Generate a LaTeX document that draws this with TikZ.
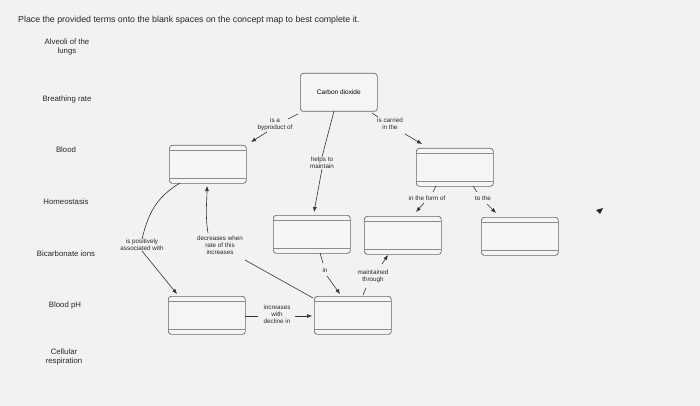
\documentclass[tikz,border=0pt]{standalone}
\usepackage{fontspec}
\setmainfont{Liberation Sans}
\begin{document}
\begin{tikzpicture}[x=1pt,y=-1pt,
  lbl/.style={font=\fontsize{6.3}{7}\selectfont,align=center,text=black!85,inner sep=0pt},
  term/.style={font=\fontsize{7.8}{9}\selectfont,align=center,text=black!85,inner sep=0pt},
  box/.style={draw=black!60,line width=0.7pt,rounded corners=3pt,fill=white!96!black,minimum width=77pt,minimum height=38pt,anchor=north west},
  blank/.style={box,path picture={\draw[black!45,line width=0.5pt]([yshift=-5pt]path picture bounding box.north west)--([yshift=-5pt]path picture bounding box.north east);
     \draw[black!45,line width=0.5pt]([yshift=5pt]path picture bounding box.south west)--([yshift=5pt]path picture bounding box.south east);}},
  ln/.style={draw=black!80,line width=0.6pt},
  arr/.style={ln,-{Latex[length=5pt,width=4pt]}}]
\usetikzlibrary{arrows.meta}
\fill[white!95!black] (0,0) rectangle (700,406);
\useasboundingbox (0,0) rectangle (700,406);
\node[font=\fontsize{8.8}{10}\selectfont,anchor=west,inner sep=0pt,text=black!85] (title) at (18,20) {Place the provided terms onto the blank spaces on the concept map to best complete it.};
\node[term] (t1) at (67,47) {Alveoli of the\\lungs};
\node[term] (t2) at (67,99) {Breathing rate};
\node[term] (t3) at (66,150) {Blood};
\node[term] (t4) at (66,202) {Homeostasis};
\node[term] (t5) at (66,254) {Bicarbonate ions};
\node[term] (t6) at (65,305) {Blood pH};
\node[term] (t7) at (64,357) {Cellular\\respiration};
\node[box,font=\fontsize{6.5}{7}\selectfont] (co2) at (300,73) {Carbon dioxide};
\node[blank] (b1) at (169,145) {};
\node[blank] (b2) at (273,215) {};
\node[blank] (b3) at (364,216) {};
\node[blank] (b4) at (416,148) {};
\node[blank] (b5) at (481,217) {};
\node[blank] (b6) at (168,296) {};
\node[blank] (b7) at (314,296) {};
% labels
\node[lbl] (l1) at (275,124) {is a\\byproduct of};
\node[lbl] (l2) at (322,163) {helps to\\maintain};
\node[lbl] (l3) at (390,124) {is carried\\in the};
\node[lbl] (l4) at (427,198) {in the form of};
\node[lbl] (l5) at (483,198) {to the};
\node[lbl] (l6) at (142,245) {is positively\\associated with};
\node[lbl] (l7) at (220,245) {decreases when\\rate of this\\increases};
\node[lbl] (l8) at (277,314) {increases\\with\\decline in};
\node[lbl] (l9) at (325,270) {in};
\node[lbl] (l10) at (373,276) {maintained\\through};
% connectors
\draw[ln] (298,114) -- (288,119);
\draw[arr] (267,132) -- (251,142);
\draw[ln] (334,111) -- (l2.north);
\draw[arr] (l2.south) -- (314,212);
\draw[ln] (372,113) -- (378,117);
\draw[arr] (405,134) -- (422,144);
\draw[ln] (436,186) -- (433,192);
\draw[arr] (424,203) -- (416,212);
\draw[ln] (473,186) -- (477,192);
\draw[arr] (487,204) -- (496,213);
\draw[ln] (180,183) .. controls (155,198) and (148,215) .. (l6.north);
\draw[arr] (l6.south) -- (177,294);
\draw[ln] (313,298) -- (245,260);
\draw[arr] (208,233) .. controls (205,215) and (207,200) .. (207,186);
\draw[ln] (245,316) -- (258,316);
\draw[arr] (295,316) -- (312,316);
\draw[ln] (320,253) -- (323,263);
\draw[arr] (327,276) -- (340,294);
\draw[ln] (363,295) -- (366,288);
\draw[arr] (382,264) -- (388,255);
\fill[black!85] (600,214) -- (596,210) -- (603,208) -- cycle;
\end{tikzpicture}
\end{document}
